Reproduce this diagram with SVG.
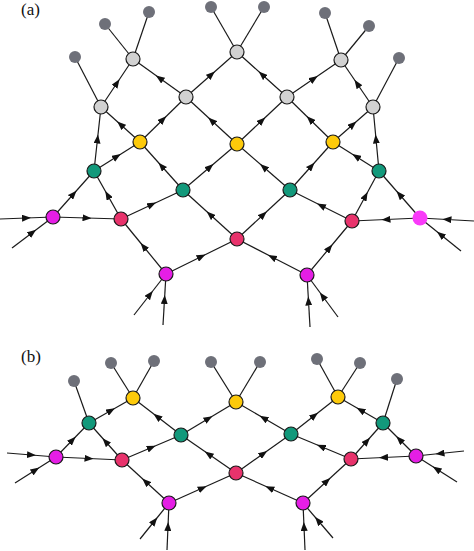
<svg xmlns="http://www.w3.org/2000/svg" width="474" height="551" viewBox="0 0 474 551">
<style>
.e{fill:none;stroke:#1a1a1a;stroke-width:1.2}
.a{marker-mid:url(#arr)}
.n{stroke:#1a1a1a;stroke-width:1.2}
.lg{fill:#d2d2d2}
.dg{fill:#6e7079;stroke:none}
.y{fill:#fdca0a}
.g{fill:#12997b}
.r{fill:#e8336c}
.m{fill:#e51ee5}
.mb{fill:#f93bf9;stroke:none}
.lbl{font-family:"Liberation Serif",serif;font-size:17px;fill:#111}
</style>
<defs>
<marker id="arr" markerUnits="userSpaceOnUse" markerWidth="9" markerHeight="7" refX="4.5" refY="3.5" orient="auto" viewBox="0 0 9 7">
<path d="M0,0 L9,3.5 L0,7 z" fill="#111"/>
</marker>
</defs>
<text class="lbl" x="21" y="15">(a)</text>
<text class="lbl" x="21" y="362">(b)</text>
<g id="connectors">
<!-- panel a arrows -->
<path class="e a" d="M53,217 L73.5,194 L94,171"/>
<path class="e a" d="M53,217 L87,218 L121,219"/>
<path class="e a" d="M121,219 L107.5,195 L94,171"/>
<path class="e a" d="M121,219 L152,204.5 L183,190"/>
<path class="e a" d="M166,274 L143.5,246.5 L121,219"/>
<path class="e a" d="M166,274 L201.5,256.5 L237,239"/>
<path class="e a" d="M237,239 L210,214.5 L183,190"/>
<path class="e a" d="M183,190 L161.5,166 L140,142"/>
<path class="e a" d="M183,190 L210,167 L237,144"/>
<path class="e a" d="M94,171 L117,156.5 L140,142"/>
<path class="e a" d="M94,171 L97.5,139 L101,107"/>
<path class="e a" d="M140,142 L120.5,124.5 L101,107"/>
<path class="e a" d="M140,142 L163,119.5 L186,97"/>
<path class="e a" d="M101,107 L117,83 L133,59"/>
<path class="e a" d="M186,97 L159.5,78 L133,59"/>
<path class="e a" d="M186,97 L211.5,74.5 L237,52"/>
<path class="e a" d="M237,144 L211.5,120.5 L186,97"/>
<path class="e a" d="M287,97 L262,74.5 L237,52"/>
<path class="e a" d="M287,97 L314,78.5 L341,60"/>
<path class="e a" d="M373,107 L357,83.5 L341,60"/>
<path class="e a" d="M237,144 L262,120.5 L287,97"/>
<path class="e a" d="M333,142 L310,119.5 L287,97"/>
<path class="e a" d="M333,142 L353,124.5 L373,107"/>
<path class="e a" d="M379,171 L376,139 L373,107"/>
<path class="e a" d="M379,171 L356,156.5 L333,142"/>
<path class="e a" d="M290,190 L263.5,167 L237,144"/>
<path class="e a" d="M290,190 L311.5,166 L333,142"/>
<path class="e a" d="M352,221 L321,205.5 L290,190"/>
<path class="e a" d="M237,239 L263.5,214.5 L290,190"/>
<path class="e a" d="M307,275 L272,257 L237,239"/>
<path class="e a" d="M307,275 L329.5,248 L352,221"/>
<path class="e a" d="M352,221 L365.5,196 L379,171"/>
<path class="e a" d="M420,218 L399.5,194.5 L379,171"/>
<path class="e a" d="M420,218 L386,219.5 L352,221"/>
<path class="e a" d="M0,219 L26.5,218 L53,217"/>
<path class="e a" d="M12,248 L32.5,232.5 L53,217"/>
<path class="e a" d="M134,315 L150,294.5 L166,274"/>
<path class="e a" d="M163,325 L164.5,299.5 L166,274"/>
<path class="e a" d="M310,327 L308.5,301 L307,275"/>
<path class="e a" d="M338,317 L322.5,296 L307,275"/>
<path class="e a" d="M474,221 L447,219.5 L420,218"/>
<path class="e a" d="M461,251 L440.5,234.5 L420,218"/>
<!-- panel a leaves -->
<path class="e" d="M101,107 L75,57"/>
<path class="e" d="M133,59 L105,24"/>
<path class="e" d="M133,59 L149,12"/>
<path class="e" d="M237,52 L211,7"/>
<path class="e" d="M237,52 L264,7"/>
<path class="e" d="M341,60 L325,13"/>
<path class="e" d="M341,60 L369,26"/>
<path class="e" d="M373,107 L399,58"/>
<!-- panel b arrows -->
<path class="e a" d="M56,457 L72.5,440 L89,423"/>
<path class="e a" d="M56,457 L89,458.5 L122,460"/>
<path class="e a" d="M122,460 L105.5,441.5 L89,423"/>
<path class="e a" d="M122,460 L151.5,447.5 L181,435"/>
<path class="e a" d="M169,503 L145.5,481.5 L122,460"/>
<path class="e a" d="M169,503 L202.5,488 L236,473"/>
<path class="e a" d="M89,423 L111,410.5 L133,398"/>
<path class="e a" d="M181,435 L157,416.5 L133,398"/>
<path class="e a" d="M181,435 L208.5,418.5 L236,402"/>
<path class="e a" d="M236,473 L208.5,454 L181,435"/>
<path class="e a" d="M291,434 L263.5,418 L236,402"/>
<path class="e a" d="M291,434 L314.5,415.5 L338,397"/>
<path class="e a" d="M383,423 L360.5,410 L338,397"/>
<path class="e a" d="M351,459 L321,446.5 L291,434"/>
<path class="e a" d="M236,473 L263.5,453.5 L291,434"/>
<path class="e a" d="M303,503 L269.5,488 L236,473"/>
<path class="e a" d="M303,503 L327,481 L351,459"/>
<path class="e a" d="M351,459 L367,441 L383,423"/>
<path class="e a" d="M416,456 L399.5,439.5 L383,423"/>
<path class="e a" d="M416,456 L383.5,457.5 L351,459"/>
<path class="e a" d="M7,453 L31.5,455 L56,457"/>
<path class="e a" d="M15,483 L35.5,470 L56,457"/>
<path class="e a" d="M140,539 L154.5,521 L169,503"/>
<path class="e a" d="M167,550 L168,526.5 L169,503"/>
<path class="e a" d="M305,550 L304,526.5 L303,503"/>
<path class="e a" d="M333,538 L318,520.5 L303,503"/>
<path class="e a" d="M464,451 L440,453.5 L416,456"/>
<path class="e a" d="M457,482 L436.5,469 L416,456"/>
<!-- panel b leaves -->
<path class="e" d="M89,423 L74,381"/>
<path class="e" d="M133,398 L111,363"/>
<path class="e" d="M133,398 L154,361"/>
<path class="e" d="M236,402 L211,362"/>
<path class="e" d="M236,402 L260,362"/>
<path class="e" d="M338,397 L317,359"/>
<path class="e" d="M338,397 L360,363"/>
<path class="e" d="M383,423 L397,379"/>
</g>
<!-- panel a nodes -->
<g id="a-D1"><circle class="dg" cx="75" cy="57" r="6"/></g>
<g id="a-D2"><circle class="dg" cx="105" cy="24" r="6"/></g>
<g id="a-D3"><circle class="dg" cx="149" cy="12" r="6"/></g>
<g id="a-D4"><circle class="dg" cx="211" cy="7" r="6"/></g>
<g id="a-D5"><circle class="dg" cx="264" cy="7" r="6"/></g>
<g id="a-D6"><circle class="dg" cx="325" cy="13" r="6"/></g>
<g id="a-D7"><circle class="dg" cx="369" cy="26" r="6"/></g>
<g id="a-D8"><circle class="dg" cx="399" cy="58" r="6"/></g>
<g id="a-L1"><circle class="n lg" cx="101" cy="107" r="7"/></g>
<g id="a-L2"><circle class="n lg" cx="133" cy="59" r="7"/></g>
<g id="a-L3"><circle class="n lg" cx="186" cy="97" r="7"/></g>
<g id="a-L4"><circle class="n lg" cx="237" cy="52" r="7"/></g>
<g id="a-L5"><circle class="n lg" cx="287" cy="97" r="7"/></g>
<g id="a-L6"><circle class="n lg" cx="341" cy="60" r="7"/></g>
<g id="a-L7"><circle class="n lg" cx="373" cy="107" r="7"/></g>
<g id="a-Y1"><circle class="n y" cx="140" cy="142" r="7"/></g>
<g id="a-Y2"><circle class="n y" cx="237" cy="144" r="7"/></g>
<g id="a-Y3"><circle class="n y" cx="333" cy="142" r="7"/></g>
<g id="a-G1"><circle class="n g" cx="94" cy="171" r="7"/></g>
<g id="a-G2"><circle class="n g" cx="183" cy="190" r="7"/></g>
<g id="a-G3"><circle class="n g" cx="290" cy="190" r="7"/></g>
<g id="a-G4"><circle class="n g" cx="379" cy="171" r="7"/></g>
<g id="a-R1"><circle class="n r" cx="121" cy="219" r="7"/></g>
<g id="a-R2"><circle class="n r" cx="237" cy="239" r="7"/></g>
<g id="a-R3"><circle class="n r" cx="352" cy="221" r="7"/></g>
<g id="a-M1"><circle class="n m" cx="53" cy="217" r="7"/></g>
<g id="a-M2"><circle class="n m" cx="166" cy="274" r="7"/></g>
<g id="a-M3"><circle class="n m" cx="307" cy="275" r="7"/></g>
<g id="a-M4"><circle class="mb" cx="420" cy="218" r="7.5"/></g>
<!-- panel b nodes -->
<g id="b-D1"><circle class="dg" cx="74" cy="381" r="6"/></g>
<g id="b-D2"><circle class="dg" cx="111" cy="363" r="6"/></g>
<g id="b-D3"><circle class="dg" cx="154" cy="361" r="6"/></g>
<g id="b-D4"><circle class="dg" cx="211" cy="362" r="6"/></g>
<g id="b-D5"><circle class="dg" cx="260" cy="362" r="6"/></g>
<g id="b-D6"><circle class="dg" cx="317" cy="359" r="6"/></g>
<g id="b-D7"><circle class="dg" cx="360" cy="363" r="6"/></g>
<g id="b-D8"><circle class="dg" cx="397" cy="379" r="6"/></g>
<g id="b-Y1"><circle class="n y" cx="133" cy="398" r="7"/></g>
<g id="b-Y2"><circle class="n y" cx="236" cy="402" r="7"/></g>
<g id="b-Y3"><circle class="n y" cx="338" cy="397" r="7"/></g>
<g id="b-G1"><circle class="n g" cx="89" cy="423" r="7"/></g>
<g id="b-G2"><circle class="n g" cx="181" cy="435" r="7"/></g>
<g id="b-G3"><circle class="n g" cx="291" cy="434" r="7"/></g>
<g id="b-G4"><circle class="n g" cx="383" cy="423" r="7"/></g>
<g id="b-R1"><circle class="n r" cx="122" cy="460" r="7"/></g>
<g id="b-R2"><circle class="n r" cx="236" cy="473" r="7"/></g>
<g id="b-R3"><circle class="n r" cx="351" cy="459" r="7"/></g>
<g id="b-M1"><circle class="n m" cx="56" cy="457" r="7"/></g>
<g id="b-M2"><circle class="n m" cx="169" cy="503" r="7"/></g>
<g id="b-M3"><circle class="n m" cx="303" cy="503" r="7"/></g>
<g id="b-M4"><circle class="n m" cx="416" cy="456" r="7"/></g>
</svg>
